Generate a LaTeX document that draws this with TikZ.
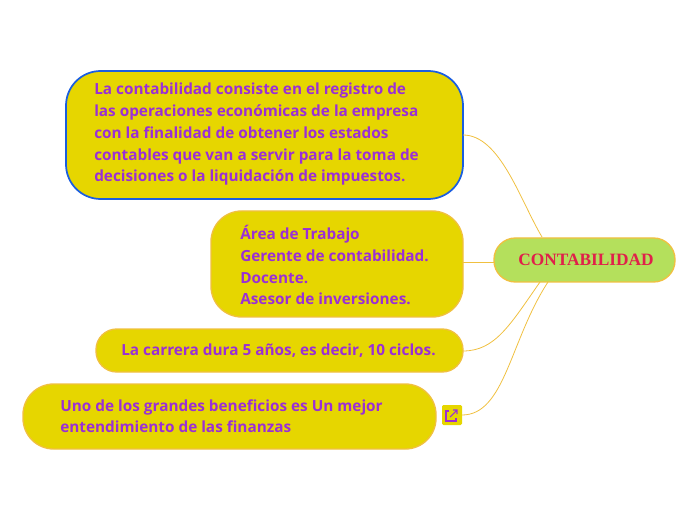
\documentclass[tikz,border=0pt]{standalone}
\usepackage{fontspec}
\setmainfont{Open Sans}
\newfontfamily\titlefont{Liberation Serif}
\definecolor{yel}{HTML}{E6D600}
\definecolor{pur}{HTML}{9A2FD6}
\definecolor{org}{HTML}{F0C040}
\definecolor{blu}{HTML}{1A5EE0}
\definecolor{grn}{HTML}{B4E05C}
\definecolor{crim}{HTML}{E0204A}
\begin{document}
\begin{tikzpicture}[x=0.75pt,y=-0.75pt,
  box/.style={fill=yel,draw=org,line width=1pt},
  txt/.style={anchor=north west,align=left,text=pur,font=\bfseries\fontsize{11.5}{16.3}\selectfont,inner sep=0pt},
  link/.style={draw=org,line width=0.6pt}]
\useasboundingbox (0,0) rectangle (696,520);
\path[box,draw=blu,line width=1.3pt,rounded corners=26pt] (66,71) rectangle (463,199);
\path[box,rounded corners=23pt] (211,211) rectangle (463,317);
\path[box,rounded corners=15.5pt] (96,329) rectangle (463,372);
\path[box,rounded corners=23pt] (23,384) rectangle (436,449);
\node[txt] (t1) at (94,83) {La contabilidad consiste en el registro de\\las operaciones económicas de la empresa\\con la finalidad de obtener los estados\\contables que van a servir para la toma de\\decisiones o la liquidación de impuestos.};
\node[txt] (t2) at (240,225) {Área de Trabajo\\Gerente de contabilidad.\\Docente.\\Asesor de inversiones.};
\node[txt] (t3) at (121,344) {La carrera dura 5 años, es decir, 10 ciclos.};
\node[txt] (t4) at (60,399) {Uno de los grandes beneficios es Un mejor\\entendimiento de las finanzas};
\path[fill=grn,draw=org,line width=1pt,rounded corners=16pt] (494,238) rectangle (675,282);
\node[text=crim,font=\titlefont\bfseries\fontsize{13}{14}\selectfont] (c) at (586,260) {CONTABILIDAD};
\coordinate (n1) at (463,135);
\coordinate (n2) at (463,262);
\coordinate (n3) at (463,351);
\coordinate (n4) at (462,415);
\coordinate (c1) at (542,237);
\coordinate (c2) at (494,262);
\coordinate (c3) at (540,282);
\coordinate (c4) at (548,282);
\draw[link] (c1) .. controls (520,200) and (500,135) .. (n1);
\draw[link] (c2) -- (n2);
\draw[link] (c3) .. controls (510,325) and (495,351) .. (n3);
\draw[link] (c4) .. controls (510,340) and (505,415) .. (n4);
\node[fill=yel,minimum size=20*0.75pt,inner sep=0pt,rounded corners=1pt] (ic) at (452,415) {};
\draw[pur,line width=0.8pt] (449,411) -- (446,411) -- (446,421) -- (456,421) -- (456,418);
\draw[pur,line width=0.8pt] (450,417) -- (457,410) (453,410) -- (457,410) -- (457,414);
\end{tikzpicture}
\end{document}
